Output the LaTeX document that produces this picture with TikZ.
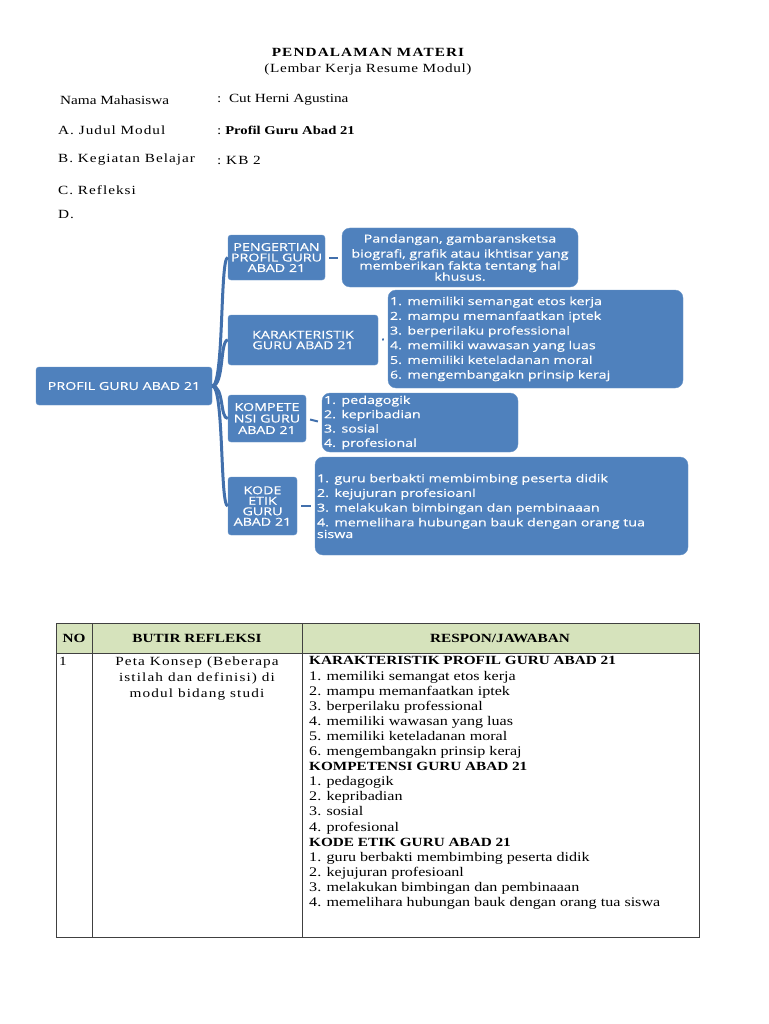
\documentclass[tikz,border=0pt]{standalone}
\usepackage{fontspec}
\setmainfont[FakeStretch=1.22]{Liberation Serif}
\newfontfamily\mapfont[FakeStretch=1.3, FakeBold=0.6]{Open Sans}
\newfontfamily\wideserif[FakeStretch=1.22, LetterSpace=8]{Liberation Serif}
\definecolor{mapblue}{HTML}{4F81BD}
\definecolor{mapline}{HTML}{4270AC}
\definecolor{headgreen}{HTML}{D6E3BC}
\definecolor{rulegray}{HTML}{404040}

\begin{document}
\begin{tikzpicture}[x=1pt, y=-1pt,
    mapbox/.style={fill=mapblue, draw=mapblue!85!white, rounded corners=3pt, text=white,
        align=center, inner sep=0pt, font=\mapfont\fontsize{11}{10.5}\selectfont},
    itembox/.style={fill=mapblue, draw=mapblue!85!white, rounded corners=8pt, text=white,
        align=left, inner sep=2pt, font=\mapfont\fontsize{11}{14.7}\selectfont},
    trunk/.style={draw=mapline, line width=3pt},
    twig/.style={draw=mapline, line width=2pt, shorten >=4pt, shorten <=4pt},
    cell/.style={inner sep=0pt, font=\fontsize{12.5}{15.1}\selectfont},
    headline/.style={inner sep=0pt, font=\fontsize{12.5}{15}\selectfont}]

\useasboundingbox (0,0) rectangle (768,1024);

% header
\node[headline, font=\fontsize{12.5}{15}\bfseries\addfontfeature{LetterSpace=9}] (judul) at (368,52) {PENDALAMAN MATERI};
\node[headline, font=\fontsize{12.5}{15}\addfontfeature{LetterSpace=5}] (subjudul) at (368,69) {(Lembar Kerja Resume Modul)};

\node[headline, anchor=west] (nama) at (60,100) {Nama Mahasiswa};
\node[headline, anchor=west] (namaisi) at (217,100) {:\ \ Cut Herni Agustina};
\node[headline, anchor=west, font=\fontsize{12.5}{15}\wideserif] (modul) at (58,130) {A.\ Judul Modul};
\node[headline, anchor=west] (modulisi) at (217,130) {:\ {\fontsize{12}{15}\bfseries Profil Guru Abad 21}};
\node[headline, anchor=west, font=\fontsize{12.5}{15}\wideserif] (kb) at (58,160) {B.\ Kegiatan Belajar};
\node[headline, anchor=west, font=\fontsize{12.5}{15}\wideserif] (kbisi) at (217,160) {:\ KB 2};
\node[headline, anchor=west, font=\fontsize{12.5}{15}\wideserif] (refleksi) at (58,190) {C.\ Refleksi};
\node[headline, anchor=west, font=\fontsize{12.5}{15}\wideserif] (d) at (58,214) {D.};

% peta konsep
\node[mapbox, minimum width=176pt, minimum height=38pt] (root) at (124,386) {PROFIL GURU ABAD 21};

\node[mapbox, minimum width=97pt, minimum height=45pt] (peng) at (276.5,257.5) {PENGERTIAN\\PROFIL GURU\\ABAD 21};
\node[mapbox, minimum width=150pt, minimum height=50pt] (karak) at (303,340) {KARAKTERISTIK\\GURU ABAD 21};
\node[mapbox, minimum width=78pt, minimum height=47pt, font=\mapfont\fontsize{11}{11.5}\selectfont] (komp) at (267,418.5) {KOMPETE\\NSI GURU\\ABAD 21};
\node[mapbox, minimum width=69pt, minimum height=58pt] (kode) at (262.5,506) {KODE\\ETIK\\GURU\\ABAD 21};

\node[itembox, align=center, minimum width=236pt, minimum height=59pt, font=\mapfont\fontsize{11}{11}\selectfont] (pengisi) at (460,257.5)
    {Pandangan, gambaransketsa\\[3pt]biografi, grafik atau ikhtisar yang\\memberikan fakta tentang hal\\khusus.};
\node[itembox, text width=291pt, minimum height=98pt] (karakisi) at (535.5,339)
    {1. memiliki semangat etos kerja\\2. mampu memanfaatkan iptek\\3. berperilaku professional\\4. memiliki wawasan yang luas\\5. memiliki keteladanan moral\\6. mengembangakn prinsip keraj};
\node[itembox, text width=192pt, minimum height=59pt, font=\mapfont\fontsize{11}{14.3}\selectfont] (kompisi) at (420,422.5)
    {1. pedagogik\\2. kepribadian\\3. sosial\\4. profesional};
\node[itembox, text width=369pt, minimum height=98pt] (kodeisi) at (501.5,506)
    {1. guru berbakti membimbing peserta didik\\2. kejujuran profesioanl\\3. melakukan bimbingan dan pembinaaan\\4. memelihara hubungan bauk dengan orang tua\\[-3pt]siswa};

\foreach \b in {peng,karak,komp,kode}
{
    \draw[trunk] (root.east) .. controls +(12,0) and +(-8,0) .. (\b.west);
}
\draw[twig] (peng.east)--(pengisi.west);
\draw[twig] (karak.east)--(karakisi.west);
\draw[twig] (komp.east)--(kompisi.west);
\draw[twig] (kode.east)--(kodeisi.west);

% tabel refleksi
\fill[headgreen] (56,623) rectangle (699,653);
\draw[rulegray, line width=1pt] (56,623) rectangle (699,937);
\draw[rulegray, line width=1pt] (56,653)--(699,653);
\draw[rulegray, line width=1pt] (92,623)--(92,937);
\draw[rulegray, line width=1pt] (302,623)--(302,937);

\node[cell, font=\fontsize{12.5}{15}\bfseries] (hno) at (74,638) {NO};
\node[cell, font=\fontsize{12.5}{15}\bfseries] (hbutir) at (197,638) {BUTIR REFLEKSI};
\node[cell, font=\fontsize{12.5}{15}\bfseries] (hrespon) at (500,638) {RESPON/JAWABAN};

\node[cell, anchor=west] (no1) at (59,661) {1};
\node[cell, anchor=north, align=center, font=\fontsize{12.5}{16}\selectfont\addfontfeature{LetterSpace=9}] (butir1) at (197,656.5)
    {Peta Konsep (Beberapa\\istilah dan definisi) di\\modul bidang studi};
\node[cell, anchor=north west, align=left, font=\fontsize{13.2}{15.1}\selectfont] (respon1) at (309,656.5)
    {{\fontsize{12.5}{15.1}\bfseries KARAKTERISTIK PROFIL GURU ABAD 21}\\
     1. memiliki semangat etos kerja\\
     2. mampu memanfaatkan iptek\\
     3. berperilaku professional\\
     4. memiliki wawasan yang luas\\
     5. memiliki keteladanan moral\\
     6. mengembangakn prinsip keraj\\
     {\fontsize{12.5}{15.1}\bfseries KOMPETENSI GURU ABAD 21}\\
     1. pedagogik\\
     2. kepribadian\\
     3. sosial\\
     4. profesional\\
     {\fontsize{12.5}{15.1}\bfseries KODE ETIK GURU ABAD 21}\\
     1. guru berbakti membimbing peserta didik\\
     2. kejujuran profesioanl\\
     3. melakukan bimbingan dan pembinaaan\\
     4. memelihara hubungan bauk dengan orang tua siswa};
\end{tikzpicture}
\end{document}
